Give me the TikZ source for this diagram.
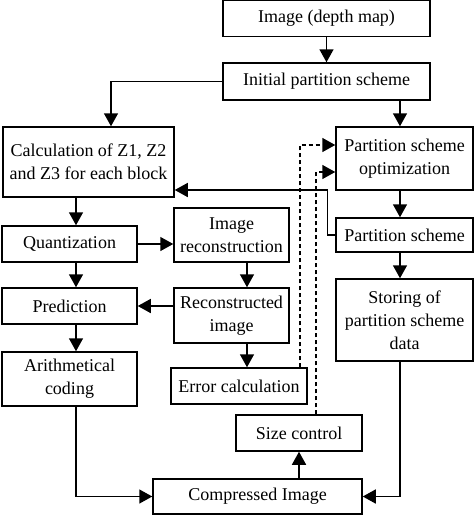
\documentclass[tikz,border=0pt]{standalone}
\usepackage{fontspec}
\setmainfont{Liberation Serif}
\usetikzlibrary{arrows.meta}

\begin{document}
\begin{tikzpicture}[x=1pt, y=-1pt, line width=1.5pt,
    box/.style={draw, rectangle, align=center, inner sep=0pt, font=\fontsize{18}{23}\selectfont},
    >={Triangle[length=13pt, width=14pt]}]

    \useasboundingbox (0,0) rectangle (474,517);

    % Column guides
    \coordinate (lc) at (76,0);
    \coordinate (mc) at (247,0);
    \coordinate (rc) at (400,0);

    % Top
    \node[box, minimum width=207, minimum height=36] (img) at (326.5,18.5) {Image (depth map)};
    \node[box, minimum width=207, minimum height=37] (init) at (326.5,81.5) {Initial partition scheme};

    % Left column
    \node[box, minimum width=171, minimum height=70] (calc) at (88.5,162) {Calculation of Z1, Z2\\and Z3 for each block};
    \node[box, minimum width=135, minimum height=36] (quant) at (69.5,244) {Quantization};
    \node[box, minimum width=135, minimum height=36] (pred) at (69.5,306) {Prediction};
    \node[box, minimum width=135, minimum height=54] (arith) at (69.5,379) {Arithmetical\\coding};

    % Middle column
    \node[box, minimum width=115, minimum height=54] (irec) at (231.5,235) {Image\\reconstruction};
    \node[box, minimum width=115, minimum height=55] (rimg) at (231.5,315.5) {Reconstructed\\image};
    \node[box, minimum width=136, minimum height=36] (err) at (239,386) {Error calculation};
    \node[box, minimum width=126, minimum height=36] (size) at (299,433) {Size control};
    \node[box, minimum width=209, minimum height=35] (comp) at (257.5,496.5) {Compressed Image};

    % Right column
    \node[box, minimum width=137, minimum height=63] (pso) at (404.5,158.5) {Partition scheme\\optimization};
    \node[box, minimum width=137, minimum height=34] (ps) at (404.5,235) {Partition scheme};
    \node[box, minimum width=137, minimum height=82] (store) at (404.5,320) {Storing of\\partition scheme\\data};

    \draw[->] (img) -- (init);
    \draw[->] (init.west) -| ([xshift=22.5pt]calc.north);
    \draw[->] (init.south -| rc) -- (pso.north -| rc);

    \draw[->] (calc.south -| lc) -- (quant.north -| lc);
    \draw[->] (quant.south -| lc) -- (pred.north -| lc);
    \draw[->] (pred.south -| lc) -- (arith.north -| lc);
    \draw[->] (quant.east) -- (quant.east -| irec.west);
    \draw[->] (irec.south -| mc) -- (rimg.north -| mc);
    \draw[->] (rimg.south -| mc) -- (err.north -| mc);
    \draw[->] (rimg.west |- pred.east) -- (pred.east);

    \draw[->] (pso.south -| rc) -- (ps.north -| rc);
    \draw[->] (ps.south -| rc) -- (store.north -| rc);
    \draw[->] (ps.west) -- ++(-8,0) |- ([yshift=-28pt]calc.east);

    \draw[->] (arith.south -| lc) |- (comp.west);
    \draw[->] (store.south -| rc) |- (comp.east);
    \draw[->] (comp.north -| size) -- (size.south);

    \draw[->, dashed, dash pattern=on 4pt off 3pt] ([xshift=-8pt]err.north east) |- ([yshift=13.5pt]pso.west);
    \draw[->, dashed, dash pattern=on 4pt off 3pt] ([xshift=17pt]size.north) |- ([yshift=-13.5pt]pso.west);

\end{tikzpicture}
\end{document}
